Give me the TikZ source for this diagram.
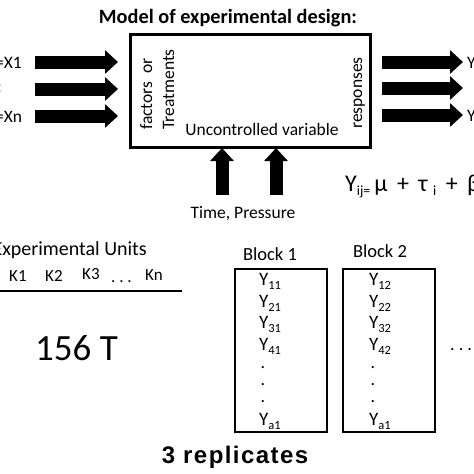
\documentclass[tikz,border=0pt]{standalone}
\usepackage{fontspec}
\setmainfont{Carlito}
\newfontfamily\arialfont{Liberation Sans}[LetterSpace=6]
\usetikzlibrary{arrows.meta}
\tikzset{
  fatarrow/.style={line width=13pt, -{Triangle[length=13pt,width=23pt]}},
  lbl/.style={inner sep=0pt, font=\fontsize{17.5}{20}\selectfont},
  blockbox/.style={draw, line width=2.4pt, minimum width=92pt, minimum height=163pt, anchor=north west, inner sep=0pt},
  yentry/.style={inner sep=0pt, font=\fontsize{19}{22}\selectfont, anchor=base},
  dotcol/.style={inner sep=0pt, font=\fontsize{18}{17}\selectfont, align=center, anchor=base},
}
\newcommand{\Ysub}[1]{Y\raisebox{-0.45ex}{\fontsize{12.5}{13}\selectfont #1}}
\begin{document}
\begin{tikzpicture}[x=1pt,y=-1pt]
\useasboundingbox (0,0) rectangle (474,474);
\clip (0,0) rectangle (474,474);
\fill[white] (0,0) rectangle (474,474);

% title
\node[inner sep=0pt, anchor=base, font=\fontsize{20.3}{22}\selectfont\bfseries] (title) at (228,23) {Model of experimental design:};

% main box
\node[draw, line width=2.5pt, minimum width=240pt, minimum height=113pt, anchor=north west, inner sep=0pt] (box) at (129,33) {};

% rotated labels
\node[lbl, rotate=90, anchor=base west] (fac) at (152,130) {factors\ \ or};
\node[lbl, rotate=90, anchor=base west] (trt) at (174,130) {Treatments};
\node[lbl, rotate=90, anchor=base west] (resp) at (362,129) {responses};
\node[lbl, anchor=base] (unc) at (262,135) {Uncontrolled variable};

% left inputs
\node[lbl, anchor=base west] (x1) at (-5,68) {=X1};
\node[lbl, anchor=base west] (xd) at (-3,92) {:};
\node[lbl, anchor=base west] (xn) at (-5,122) {=Xn};
\coordinate (l1s) at (35,62);  \coordinate (l1e) at (118,62);
\coordinate (l2s) at (35,89);  \coordinate (l2e) at (118,89);
\coordinate (l3s) at (35,116); \coordinate (l3e) at (118,116);
\draw[fatarrow] (l1s) -- (l1e);
\draw[fatarrow] (l2s) -- (l2e);
\draw[fatarrow] (l3s) -- (l3e);

% right outputs
\coordinate (r1s) at (382,62);  \coordinate (r1e) at (463,62);
\coordinate (r2s) at (382,88);  \coordinate (r2e) at (463,88);
\coordinate (r3s) at (382,115); \coordinate (r3e) at (463,115);
\draw[fatarrow] (r1s) -- (r1e);
\draw[fatarrow] (r2s) -- (r2e);
\draw[fatarrow] (r3s) -- (r3e);
\node[lbl, anchor=base west] (y1) at (467,68) {Y};
\node[lbl, anchor=base west] (y3) at (467,121) {Y};

% bottom inputs
\coordinate (b1s) at (222,195); \coordinate (b1e) at (222,148);
\coordinate (b2s) at (276,195); \coordinate (b2e) at (276,148);
\draw[fatarrow] (b1s) -- (b1e);
\draw[fatarrow] (b2s) -- (b2e);
\node[lbl, anchor=base] (tp) at (243,218) {Time, Pressure};

% equation
\node[inner sep=0pt, anchor=base west, font=\fontsize{24}{26}\selectfont] (eq) at (345,191)
  {Y\raisebox{-0.4ex}{\fontsize{14}{15}\selectfont ij=}\,μ\, +\, τ\ \raisebox{-0.4ex}{\fontsize{14}{15}\selectfont i}\ \,+\, β\raisebox{-0.4ex}{\fontsize{14}{15}\selectfont j}};

% experimental units
\node[inner sep=0pt, anchor=base east, font=\fontsize{20}{22}\selectfont] (eu) at (147,255) {Experimental Units};
\node[inner sep=0pt, anchor=base west, font=\fontsize{17}{18}\selectfont] (k1) at (9,281) {K1};
\node[inner sep=0pt, anchor=base west, font=\fontsize{17}{18}\selectfont] (k2) at (45,281) {K2};
\node[inner sep=0pt, anchor=base west, font=\fontsize{17}{18}\selectfont] (k3) at (82,279) {K3};
\node[inner sep=0pt, anchor=base west, font=\fontsize{17}{18}\selectfont] (kd) at (111,282) {.\ .\ .};
\node[inner sep=0pt, anchor=base west, font=\fontsize{17}{18}\selectfont] (kn) at (145,280) {Kn};
\coordinate (hl1) at (0,291); \coordinate (hl2) at (182,291);
\draw[line width=1.5pt] (hl1) -- (hl2);

\node[inner sep=0pt, anchor=base west, font=\fontsize{37}{40}\selectfont] (t156) at (35,360) {156 T};
\node[inner sep=0pt, anchor=base, font=\fontsize{24}{28}\selectfont\arialfont\bfseries] (rep) at (235,463) {3 replicates};

% blocks
\node[inner sep=0pt, anchor=base, font=\fontsize{18.5}{20}\selectfont] (bl1) at (270,260) {Block 1};
\node[inner sep=0pt, anchor=base, font=\fontsize{18.5}{20}\selectfont] (bl2) at (380,257) {Block 2};
\node[blockbox] (blk1) at (234,268) {};
\node[blockbox] (blk2) at (342,268) {};

\node[yentry] (a11) at (270,285) {\Ysub{11}};
\node[yentry] (a21) at (270,307) {\Ysub{21}};
\node[yentry] (a31) at (270,328) {\Ysub{31}};
\node[yentry] (a41) at (270,350) {\Ysub{41}};
\node[dotcol] (adots) at (263,402) {.\\.\\.};
\node[yentry] (aa1) at (270,425) {\Ysub{a1}};

\node[yentry] (b12) at (380,285) {\Ysub{12}};
\node[yentry] (b22) at (380,307) {\Ysub{22}};
\node[yentry] (b32) at (380,328) {\Ysub{32}};
\node[yentry] (b42) at (380,350) {\Ysub{42}};
\node[dotcol] (bdots) at (373,402) {.\\.\\.};
\node[yentry] (ba1) at (380,425) {\Ysub{a1}};

\node[inner sep=0pt, anchor=base west, font=\fontsize{18}{20}\selectfont] (rdots) at (450,350) {.\ .\ .};
\end{tikzpicture}
\end{document}
